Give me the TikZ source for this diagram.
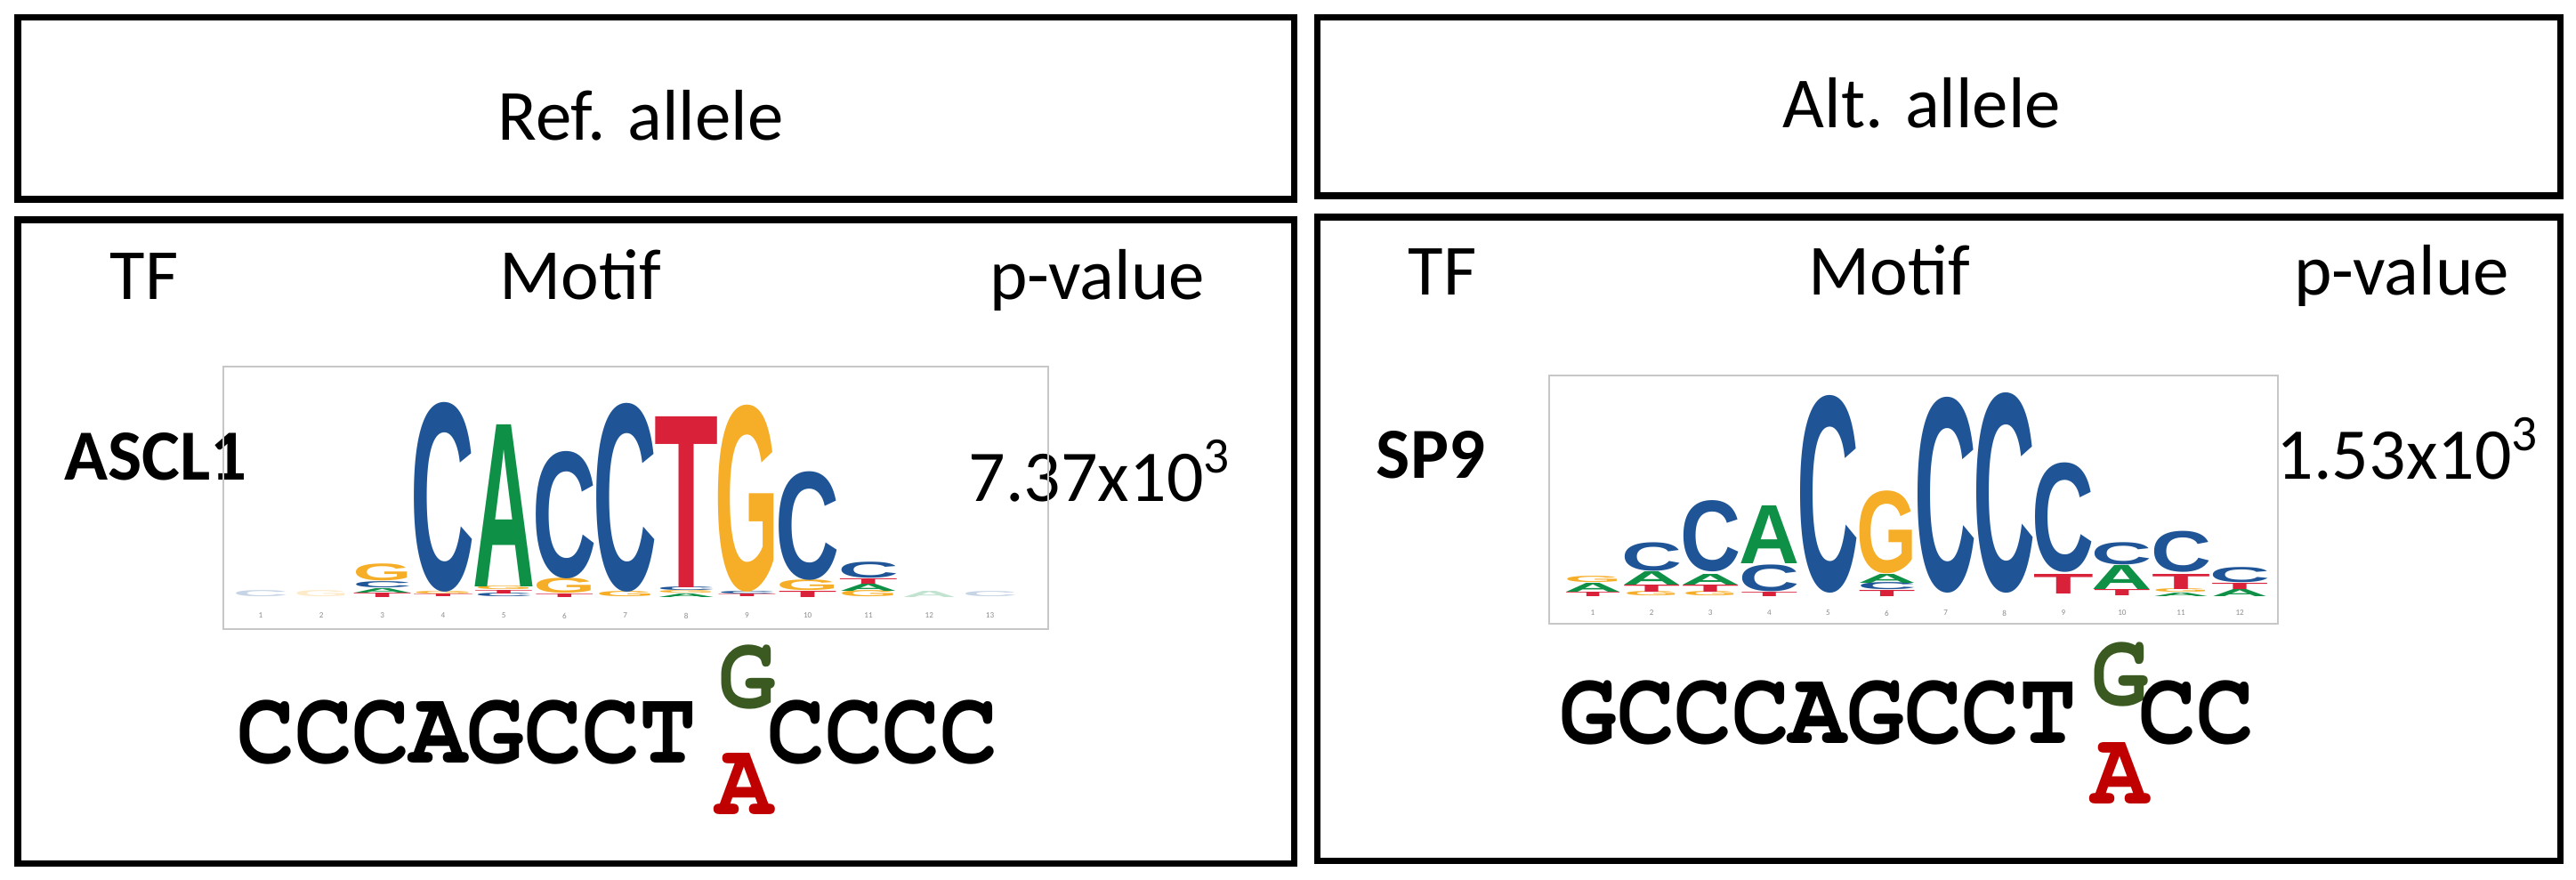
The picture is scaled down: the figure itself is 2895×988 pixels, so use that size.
\documentclass[tikz,border=0pt]{standalone}
\usepackage{fontspec}
\usepackage{graphicx}
\setmainfont{Carlito}
\IfFontExistsTF{TeX Gyre Cursor}{\newfontfamily\seqfont{TeX Gyre Cursor}}{\newfontfamily\seqfont{Liberation Mono}}
\newfontfamily\logofont{Liberation Sans}
\definecolor{lgC}{HTML}{1F5596}
\definecolor{lgA}{HTML}{0E9146}
\definecolor{lgG}{HTML}{F6AD27}
\definecolor{lgT}{HTML}{D9213A}
\definecolor{altG}{HTML}{3A5A22}
\definecolor{altA}{HTML}{C00000}
\newcounter{lgc}
% color, letter, x centre, y bottom, y top, width (all px)
\newcommand{\LL}[6]{%
  \pgfmathsetlengthmacro\lgh{(#4-#5)*0.284528pt}%
  \pgfmathsetlengthmacro\lgw{#6*0.284528pt}%
  \stepcounter{lgc}%
  \node[inner sep=0pt, outer sep=0pt, anchor=south, text=#1] (lg\arabic{lgc}) at (#3,#4)
    {\resizebox*{\lgw}{\lgh}{\logofont\bfseries #2}};}
\newcommand{\LC}[4]{\LL{lgC}{C}{#1}{#2}{#3}{#4}}
\newcommand{\LA}[4]{\LL{lgA}{A}{#1}{#2}{#3}{#4}}
\newcommand{\LG}[4]{\LL{lgG}{G}{#1}{#2}{#3}{#4}}
\newcommand{\LT}[4]{\LL{lgT}{T}{#1}{#2}{#3}{#4}}
\tikzset{
  panel/.style={draw=black, line width=0.07cm},
  logobox/.style={draw=black!22, line width=0.012cm},
  hdr/.style={inner sep=0pt, anchor=base, font=\fontsize{23}{27}\selectfont},
  tfname/.style={inner sep=0pt, anchor=base, font=\fontsize{23}{27}\selectfont\bfseries},
  pval/.style={inner sep=0pt, anchor=base west, font=\fontsize{23.3}{27}\selectfont},
  seq/.style={inner sep=0pt, anchor=base west, yscale=1.1, font=\fontsize{30.6}{34}\seqfont\bfseries},
  snp/.style={inner sep=0pt, anchor=base, yscale=1.1, font=\fontsize{30.6}{34}\seqfont\bfseries},
  colnum/.style={inner sep=0pt, text=black!45, font=\fontsize{2.6}{3}\selectfont},
}
\begin{document}
\begin{tikzpicture}[x=0.01cm, y=-0.01cm]
\useasboundingbox (0,0) rectangle (2895,988);
% panels
\draw[panel] (20,20) rectangle (1454,224);
\draw[panel] (1480,20) rectangle (2877,220);
\draw[panel] (20,247) rectangle (1454,970);
\draw[panel] (1480,244) rectangle (2877,967);
% headers
\node[hdr] (refh) at (720,157) {Ref. allele};
\node[hdr] (alth) at (2160,144) {Alt. allele};
\node[hdr] (tf1) at (162,336) {TF};
\node[hdr] (mo1) at (652,336) {Motif};
\node[hdr] (pv1) at (1233,336) {p-value};
\node[hdr] (tf2) at (1621,331) {TF};
\node[hdr] (mo2) at (2123,331) {Motif};
\node[hdr] (pv2) at (2699,331) {p-value};
% TF names
\node[tfname] (n1) at (175,539) {ASCL1};
\node[tfname] (n2) at (1608,537) {SP9};
% p-values
\node[pval] (p1) at (1088,563) {7.37x10\textsuperscript{3}};
\node[pval] (p2) at (2558,538) {1.53x10\textsuperscript{3}};
% logo boxes
\draw[logobox] (251,412) rectangle (1178,707);
\draw[logobox] (1741,422) rectangle (2560,701);
% ASCL1 logo
\foreach \i in {1,...,13}{
  \pgfmathsetmacro\xx{293+68.3*(\i-1)}
  \node[colnum] (ca\i) at (\xx,692) {\i};
}
\begin{scope}[opacity=0.25]
\LC{293}{671}{664}{62}\LG{361.3}{671}{664}{62}
\LA{1044.3}{671}{664}{62}\LC{1112.6}{671}{665}{62}
\end{scope}
\LT{429.6}{671}{666}{66}\LA{429.6}{666}{661}{66}\LC{429.6}{661}{654}{66}\LG{429.6}{653}{634}{66}
\LT{497.9}{671}{668}{68}\LG{497.9}{668}{665}{68}\LC{497.9}{665}{452}{72}
\LC{566.2}{671}{667}{66}\LT{566.2}{667}{663}{66}\LG{566.2}{663}{659}{66}\LA{566.2}{659}{477}{70}
\LT{634.5}{671}{667}{66}\LG{634.5}{667}{650}{70}\LC{634.5}{650}{507}{72}
\LG{702.8}{671}{665}{66}\LC{702.8}{665}{453}{72}
\LA{771.1}{671}{667}{66}\LG{771.1}{667}{664}{66}\LC{771.1}{664}{660}{66}\LT{771.1}{660}{468}{72}
\LT{839.4}{671}{668}{66}\LC{839.4}{668}{665}{66}\LG{839.4}{665}{455}{72}
\LT{907.7}{671}{664}{66}\LG{907.7}{664}{652}{70}\LC{907.7}{652}{530}{72}
\LG{976}{671}{664}{66}\LA{976}{664}{656}{66}\LT{976}{656}{650}{66}\LC{976}{650}{632}{68}
% SP9 logo
\foreach \i in {1,...,12}{
  \pgfmathsetmacro\xx{1790+66.1*(\i-1)}
  \node[colnum] (cb\i) at (\xx,689) {\i};
}
\LT{1790}{670}{665}{62}\LA{1790}{665}{655}{64}\LG{1790}{655}{648}{64}
\LG{1856.1}{670}{665}{62}\LT{1856.1}{665}{657}{64}\LA{1856.1}{657}{642}{66}\LC{1856.1}{642}{610}{68}
\LG{1922.2}{670}{665}{62}\LT{1922.2}{665}{657}{64}\LA{1922.2}{657}{645}{66}\LC{1922.2}{643}{563}{68}
\LT{1988.3}{670}{665}{64}\LC{1988.3}{665}{635}{68}\LA{1988.3}{633}{568}{68}
\LC{2054.4}{667}{445}{70}
\LT{2120.5}{670}{663}{64}\LC{2120.5}{663}{655}{66}\LA{2120.5}{655}{645}{66}\LG{2120.5}{645}{552}{68}
\LC{2186.6}{667}{447}{70}
\LC{2252.7}{667}{442}{70}
\LT{2318.8}{667}{645}{68}\LC{2318.8}{643}{520}{70}
\LT{2384.9}{669}{662}{64}\LA{2384.9}{662}{635}{68}\LC{2384.9}{635}{610}{68}
\LA{2451}{670}{666}{64}\LG{2451}{666}{662}{64}\LT{2451}{662}{645}{66}\LC{2451}{643}{597}{68}
\LA{2517.1}{670}{662}{64}\LT{2517.1}{662}{655}{64}\LC{2517.1}{655}{638}{68}
% sequences
\node[seq] (s1a) at (266,857) {CCCAGCCT};
\node[snp, text=altG] (g1) at (840,795) {G};
\node[snp, text=altA] (a1) at (837,915) {A};
\node[seq] (s1b) at (862,857) {CCCC};
\node[seq] (s2a) at (1752,835) {GCCCAGCCT};
\node[snp, text=altG] (g2) at (2383,792) {G};
\node[snp, text=altA] (a2) at (2383,903) {A};
\node[seq] (s2b) at (2403,835) {CC};
\end{tikzpicture}
\end{document}
